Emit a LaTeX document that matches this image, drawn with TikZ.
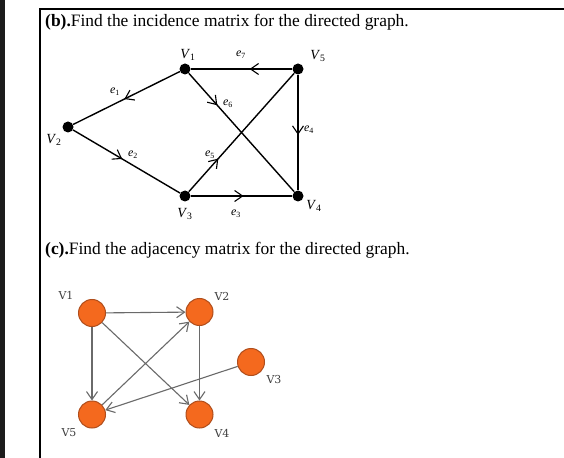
\documentclass[tikz,border=0pt]{standalone}
\usepackage{fontspec}
\setmainfont{Liberation Serif}
\newfontfamily\labfont{DejaVu Serif}
\usetikzlibrary{arrows.meta,decorations.markings}
\definecolor{orangefill}{HTML}{F4691E}
\definecolor{orangeline}{HTML}{B04E1C}
\definecolor{edgegray}{HTML}{6A6A6A}
\definecolor{labgray}{HTML}{404040}
\definecolor{strip}{HTML}{1C1C1C}
\newcommand\vl[2]{\textit{#1}\textsubscript{#2}}
\begin{document}
\begin{tikzpicture}[x=1bp,y=-1bp,
  dot/.style={circle,fill=black,inner sep=0pt,minimum size=11bp},
  gedge/.style={line width=1.4bp},
  midarrow/.style={postaction={decorate},decoration={markings,mark=at position #1 with {\arrow{Straight Barb[length=8bp,width=11bp,line width=1.1bp]}}}},
  vlab/.style={font=\fontsize{14}{16}\selectfont,inner sep=0pt},
  elab/.style={font=\fontsize{12}{14}\selectfont,inner sep=0pt},
  title/.style={font=\fontsize{17.5}{20}\selectfont,anchor=base west,inner sep=0pt},
  onode/.style={circle,fill=orangefill,draw=orangeline,line width=1bp,minimum size=27bp,inner sep=0pt},
  cedge/.style={draw=edgegray,line width=1.1bp,-{Straight Barb[length=8bp,width=11bp]}},
  clab/.style={font=\labfont\fontsize{11}{13}\selectfont,text=labgray,inner sep=0pt}
]
\fill[white] (0,0) rectangle (564,458);
\useasboundingbox (0,0) rectangle (564,458);
\fill[strip] (0,0) rectangle (5,458);
\draw[line width=2.2bp] (40,458) -- (40,9) -- (564,9);

% (b)
\node[title] (tb) at (45,27) {\textbf{(b).}Find the incidence matrix for the directed graph.};
\node[dot] (v1) at (185,69) {};
\node[dot] (v5) at (298,69) {};
\node[dot] (v2) at (68,127) {};
\node[dot] (v3) at (185,196) {};
\node[dot] (v4) at (298,196) {};
\draw[gedge,midarrow=0.42] (v5) -- (v1);
\draw[gedge,midarrow=0.52] (v1) -- (v2);
\draw[gedge,midarrow=0.27] (v1) -- (v4);
\draw[gedge,midarrow=0.52] (v5) -- (v4);
\draw[gedge,midarrow=0.46] (v2) -- (v3);
\draw[gedge,midarrow=0.28] (v3) -- (v5);
\draw[gedge,midarrow=0.52] (v3) -- (v4);
\node[vlab] (lv1) at (188,55) {\vl{V}{1}};
\node[vlab] (lv5) at (318,56) {\vl{V}{5}};
\node[vlab] (lv2) at (54,140) {\vl{V}{2}};
\node[vlab] (lv3) at (185,214) {\vl{V}{3}};
\node[vlab] (lv4) at (314,206) {\vl{V}{4}};
\node[elab] (le7) at (241,55) {\vl{e}{7}};
\node[elab] (le1) at (115,92) {\vl{e}{1}};
\node[elab] (le6) at (228,104) {\vl{e}{6}};
\node[elab] (le4) at (309,130) {\vl{e}{4}};
\node[elab] (le2) at (133,155) {\vl{e}{2}};
\node[elab] (le5) at (210,155) {\vl{e}{5}};
\node[elab] (le3) at (236,214) {\vl{e}{3}};

% (c)
\node[title] (tc) at (45,255) {\textbf{(c).}Find the adjacency matrix for the directed graph.};
\node[onode] (c1) at (92,313) {};
\node[onode] (c2) at (199.5,312) {};
\node[onode] (c3) at (251,362) {};
\node[onode] (c5) at (92,414.5) {};
\node[onode] (c4) at (199.5,414.5) {};
\draw[cedge] (c1) -- (c2);
\draw[cedge] (c1) -- (c5);
\draw[cedge] (c1) -- (c4);
\draw[cedge] (c2) -- (c4);
\draw[cedge] (c5) -- (c2);
\draw[cedge] (c3) -- (c5);
\node[clab] (l1) at (66,295) {V1};
\node[clab] (l2) at (222,296) {V2};
\node[clab] (l3) at (274,380) {V3};
\node[clab] (l5) at (69,433) {V5};
\node[clab] (l4) at (222,433) {V4};
\end{tikzpicture}
\end{document}
